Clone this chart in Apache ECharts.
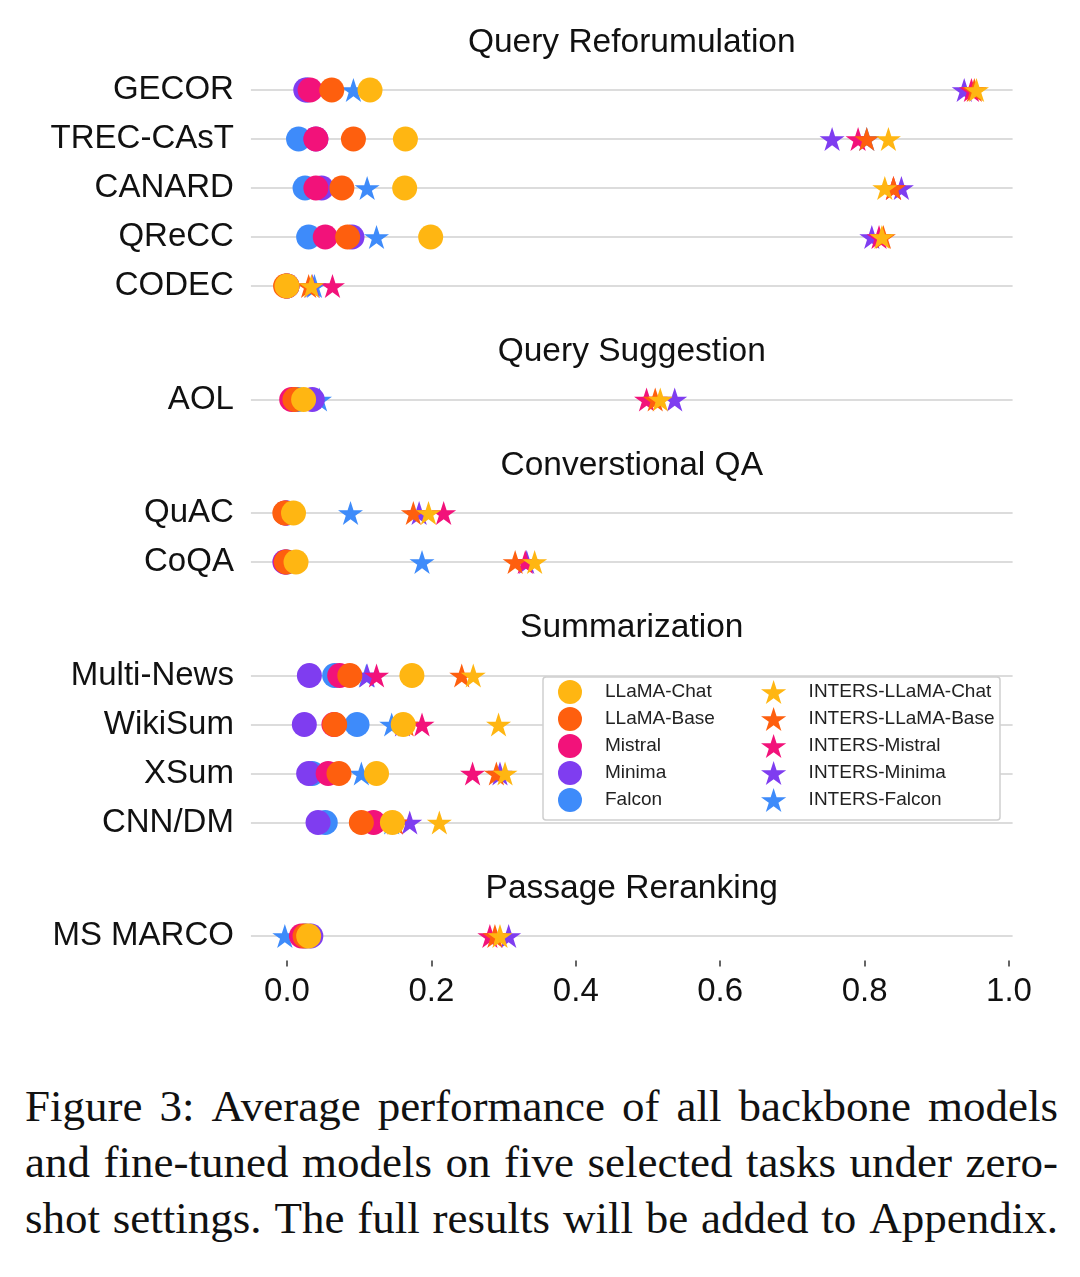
<!DOCTYPE html>
<html><head><meta charset="utf-8">
<script src="https://cdn.jsdelivr.net/npm/echarts@6/dist/echarts.min.js"></script>
<style>
html,body{margin:0;padding:0;background:#fff;width:1080px;height:1277px;overflow:hidden;}
#chart{position:absolute;left:0;top:0;width:1080px;height:1050px;}
.cap{position:absolute;left:25px;width:1033px;display:flex;justify-content:space-between;white-space:nowrap;font-family:"Liberation Serif","Times New Roman",serif;font-size:45px;line-height:56px;color:#111;}
</style></head>
<body>
<div id="chart"></div>
<div id="caption"></div>
<script>
const captionLines = [
  'Figure 3: Average performance of all backbone models',
  'and fine-tuned models on five selected tasks under zero-',
  'shot settings. The full results will be added to Appendix.'
];
const datasets = ['GECOR','TREC-CAsT','CANARD','QReCC','CODEC','AOL','QuAC','CoQA','Multi-News','WikiSum','XSum','CNN/DM','MS MARCO'];
const panelTitles = ['Query Reforumulation','Query Suggestion','Converstional QA','Summarization','Passage Reranking'];
const panelSizes = [5,1,2,4,1];
const xTicks = [0,0.2,0.4,0.6,0.8,1.0];
const modelNames = ['LLaMA-Chat','LLaMA-Base','Mistral','Minima','Falcon'];
const intersNames = ['INTERS-LLaMA-Chat','INTERS-LLaMA-Base','INTERS-Mistral','INTERS-Minima','INTERS-Falcon'];
const modelColors = ['#FFB612','#FE5F0E','#F2127A','#7F3DF0','#3E8BFA'];

// backbone models (circles)
const llamaChat = [0.115,0.164,0.163,0.199,0.000,0.023,0.009,0.0125,0.173,0.161,0.124,0.146,0.030];
const llamaBase = [0.062,0.092,0.076,0.084,-0.002,0.011,-0.003,-0.001,0.087,0.066,0.072,0.103,0.025];
const mistral   = [0.032,0.040,0.040,0.053,0.000,0.0065,-0.002,-0.002,0.073,0.065,0.057,0.120,0.020];
const minima    = [0.026,0.040,0.048,0.090,0.000,0.035,-0.002,-0.003,0.031,0.024,0.030,0.043,0.033];
const falcon    = [0.028,0.016,0.025,0.030,0.000,0.015,0.000,0.000,0.066,0.097,0.035,0.053,0.025];
// INTERS fine-tuned models (stars)
const intersLlamaChat = [0.955,0.833,0.828,0.824,0.034,0.517,0.196,0.343,0.258,0.293,0.302,0.211,0.295];
const intersLlamaBase = [0.952,0.803,0.840,0.826,0.030,0.510,0.175,0.316,0.242,0.165,0.290,0.150,0.288];
const intersMistral   = [0.948,0.791,0.840,0.820,0.063,0.498,0.217,0.330,0.124,0.187,0.257,0.150,0.281];
const intersMinima    = [0.938,0.755,0.851,0.810,0.035,0.537,0.183,0.332,0.111,0.160,0.295,0.170,0.307];
const intersFalcon    = [0.092,0.803,0.111,0.124,0.038,0.045,0.088,0.187,0.110,0.145,0.103,0.145,-0.003];

const baseValues = [llamaChat,llamaBase,mistral,minima,falcon];
const intersValues = [intersLlamaChat,intersLlamaBase,intersMistral,intersMinima,intersFalcon];

// caption (justified lines)
const capEl = document.getElementById('caption');
captionLines.forEach((line, i) => {
  const d = document.createElement('div');
  d.className = 'cap';
  d.style.top = (1078 + i * 56) + 'px';
  line.split(' ').forEach(w => { const s = document.createElement('span'); s.textContent = w; d.appendChild(s); });
  capEl.appendChild(d);
});

const STAR = 'path://M50 0 L38.77 34.55 L2.45 34.55 L31.83 55.9 L20.61 90.45 L50 69.1 L79.39 90.45 L68.17 55.9 L97.55 34.55 L61.23 34.55 Z';
const FONT = '"Liberation Sans", Arial, Helvetica, sans-serif';

const rowH = 49, firstRowY = 90, panelGap = 113.5;
const gridLeft = 250.9, gridWidth = 761.7;
const grids = [], xAxes = [], yAxes = [], titleEls = [];
const panelRows = [];
let y = firstRowY, start = 0;
panelSizes.forEach((n, p) => {
  const rows = datasets.slice(start, start + n);
  panelRows.push({rows, start});
  grids.push({left: gridLeft, width: gridWidth, top: y - rowH / 2, height: n * rowH});
  titleEls.push({type: 'text', x: gridLeft + gridWidth / 2, y: y - 47.5, z: 5,
    style: {text: panelTitles[p], font: '33.5px ' + FONT, fill: '#111', align: 'center', verticalAlign: 'middle'}});
  const last = p === panelSizes.length - 1;
  xAxes.push({
    type: 'value', gridIndex: p, min: -0.05, max: 1.005, show: last,
    axisLine: {show: false}, splitLine: {show: false},
    axisTick: {show: true, customValues: xTicks, length: 6, lineStyle: {color: '#333', width: 1.5}},
    axisLabel: {show: true, customValues: xTicks, margin: 15, fontSize: 33, color: '#111', fontFamily: FONT,
      formatter: v => v.toFixed(1)}
  });
  yAxes.push({
    type: 'category', gridIndex: p, data: rows, inverse: true,
    axisLine: {show: false}, axisTick: {show: false}, splitLine: {show: false},
    axisLabel: {fontSize: 33, color: '#111', margin: 17, fontFamily: FONT}
  });
  y += (n - 1) * rowH + panelGap;
  start += n;
});

const series = [];
// row guide lines
panelRows.forEach((pr, p) => {
  series.push({
    type: 'scatter', name: '__rows' + p, xAxisIndex: p, yAxisIndex: p, data: [], silent: true,
    markLine: {z: 1, silent: true, symbol: ['none','none'], label: {show: false},
      lineStyle: {color: '#dcdcdc', width: 2, type: 'solid'}, emphasis: {disabled: true},
      data: pr.rows.map(r => ({yAxis: r}))}
  });
});
// draw order: Falcon first ... LLaMA-Chat last (on top)
for (let k = modelNames.length - 1; k >= 0; k--) {
  [[modelNames[k], baseValues[k], 'circle', 25], [intersNames[k], intersValues[k], STAR, 25]].forEach(([name, vals, sym, size]) => {
    panelRows.forEach((pr, p) => {
      series.push({
        type: 'scatter', name, xAxisIndex: p, yAxisIndex: p,
        symbol: sym, symbolSize: size, symbolKeepAspect: true,
        itemStyle: {color: modelColors[k], opacity: 1},
        emphasis: {disabled: true},
        data: pr.rows.map((r, i) => [vals[pr.start + i], r])
      });
    });
  });
}

const legendCommon = {orient: 'vertical', top: 680, padding: 0, itemWidth: 60, itemHeight: 24, itemGap: 3,
  textStyle: {fontSize: 19, color: '#222', fontFamily: FONT}, z: 6};

const chart = echarts.init(document.getElementById('chart'), null, {renderer: 'canvas'});
chart.setOption({
  animation: false,
  textStyle: {fontFamily: FONT},
  grid: grids, xAxis: xAxes, yAxis: yAxes,
  legend: [
    Object.assign({}, legendCommon, {left: 558, data: modelNames, icon: 'circle'}),
    Object.assign({}, legendCommon, {left: 761, data: intersNames, icon: STAR})
  ],
  graphic: {z: 3, elements: [
    {type: 'rect', z: 3, shape: {x: 543, y: 677, width: 457, height: 143, r: 3},
      style: {fill: '#fff', stroke: '#cfcfcf', lineWidth: 1.5}}
  ].concat(titleEls)},
  series
});
</script>
</body></html>
